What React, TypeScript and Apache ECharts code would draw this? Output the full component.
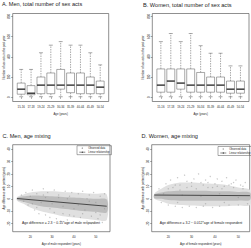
import React, { useEffect, useRef } from "react";
import * as echarts from "echarts";

// ---------- data ----------
const ageGroups = ["15-16", "17-18", "19-24", "25-29", "30-34", "35-39", "40-44", "45-49", "50-54"];
const actTicks = [0, 200, 400, 600, 800];

// Men: whisker low, Q1, median, Q3, whisker high
const menLow = [5, 5, 5, 5, 5, 5, 5, 5, 5];
const menQ1 = [30, 25, 35, 35, 80, 45, 35, 35, 35];
const menMedian = [80, 40, 120, 120, 120, 120, 120, 120, 100];
const menQ3 = [140, 115, 200, 240, 275, 240, 240, 200, 160];
const menHigh = [275, 275, 440, 515, 550, 515, 515, 440, 320];

// Women
const womenLow = [5, 5, 5, 5, 5, 5, 5, 5, 5];
const womenQ1 = [50, 50, 80, 50, 50, 50, 50, 40, 40];
const womenMedian = [120, 160, 140, 120, 120, 120, 120, 80, 80];
const womenQ3 = [280, 280, 280, 280, 245, 200, 200, 160, 160];
const womenHigh = [550, 630, 550, 630, 510, 435, 435, 310, 310];

// Age mixing
const diffTicks = [-20, -10, 0, 10, 20, 30, 40];
const ageTicks = [20, 30, 40, 50];

const menAges = [14, 17, 20, 25, 30, 35, 40, 45, 50, 55];
const menOuterHi = [1.5, 3.5, 5, 6, 6, 5.5, 5, 4.5, 4, 3.5];
const menOuterLo = [-1.5, -4, -7, -10, -12, -14, -15, -16, -17, -17];
const menInnerHi = [0.8, 2, 2.5, 2.5, 2, 1.5, 1, 0.5, 0, -0.5];
const menInnerLo = [-0.8, -2.5, -4, -6, -7, -8, -9, -10, -10.5, -11];
const menPoints = [
  [16, 3], [18, 5], [19, -5], [21, 7], [22, -9], [23, 4], [24, -12], [26, 8], [27, -13], [28, 5],
  [29, -15], [31, 7], [32, -16], [33, 3], [34, -18], [36, 6], [37, -17], [38, -13], [39, 5], [41, -19],
  [42, 4], [43, -15], [44, 6], [46, -18], [47, 3], [48, -20], [49, 5], [51, -16], [52, 2], [53, -19],
  [54, 4], [20, 2], [25, -3], [30, -4], [35, -6], [40, -8], [45, -9], [50, -11], [17, -2], [27, 1],
  [37, 0], [47, -2], [21, -4], [23, -7], [26, 3], [29, -8], [31, -11], [33, 1], [35, -12], [38, 2],
  [40, -14], [42, -5], [44, -12], [46, 0], [48, -14], [50, -3], [52, -13], [54, -8],
];
const menLineAges = [14, 55];
const menLineVals = [0.2, -6.0];

const womenAges = [14, 17, 20, 25, 30, 35, 40, 45, 50, 55];
const womenOuterHi = [4, 8, 11, 13, 13, 12.5, 12, 11, 9, 7];
const womenOuterLo = [0, -2, -4, -5, -5.5, -6, -6, -6, -5.5, -5];
const womenInnerHi = [3.5, 5, 6, 6.5, 6.5, 6.5, 6, 6, 5.5, 5];
const womenInnerLo = [0.5, 0, -1, -1.5, -1.5, -1.5, -1.5, -1.5, -1.5, -1];
const womenPoints = [
  [16, 8], [17, -3], [19, 12], [20, -5], [21, 15], [22, 9], [23, -6], [24, 17], [25, 11], [26, -7],
  [27, 19], [28, 14], [29, -6], [30, 10], [31, 16], [32, -7], [33, 20], [34, 13], [35, -6], [36, 15],
  [37, 9], [38, 18], [39, -7], [40, 12], [41, 16], [42, -6], [43, 14], [44, 10], [45, 17], [46, -5],
  [47, 12], [48, 9], [49, 15], [50, -5], [51, 11], [52, 8], [53, 13], [54, -4], [18, 4], [26, 3],
  [34, 2], [42, 4], [50, 1], [20, 8], [23, 11], [25, 7], [28, 9], [30, 13], [32, 8], [35, 11],
  [37, 13], [39, 9], [41, 10], [43, 8], [46, 11], [48, 13], [52, 10], [24, -3], [36, -4], [44, -3],
];
const womenLineAges = [14, 55];
const womenLineVals = [3.0, 2.5];

// ---------- helpers ----------
const FONT = "Liberation Sans";
const TXT = "#222";

function boxData(lo: number[], q1: number[], md: number[], q3: number[], hi: number[]) {
  return ageGroups.map((_, i) => [i + 1, lo[i], q1[i], md[i], q3[i], hi[i]]);
}

function renderBox(params: any, api: any) {
  const x = api.value(0);
  const pLo = api.coord([x, api.value(1)]);
  const pQ1 = api.coord([x, api.value(2)]);
  const pMd = api.coord([x, api.value(3)]);
  const pQ3 = api.coord([x, api.value(4)]);
  const pHi = api.coord([x, api.value(5)]);
  const hw = api.size([0.8, 0])[0] / 2;
  const cw = api.size([0.4, 0])[0] / 2;
  const cx = pMd[0];
  const thin = { stroke: "#555", lineWidth: 0.5 };
  return {
    type: "group",
    children: [
      { type: "line", shape: { x1: cx, y1: pQ3[1], x2: cx, y2: pHi[1] }, style: { ...thin, lineDash: [1.5, 1] } },
      { type: "line", shape: { x1: cx, y1: pQ1[1], x2: cx, y2: pLo[1] }, style: { ...thin, lineDash: [1.5, 1] } },
      { type: "line", shape: { x1: cx - cw, y1: pHi[1], x2: cx + cw, y2: pHi[1] }, style: thin },
      { type: "line", shape: { x1: cx - cw, y1: pLo[1], x2: cx + cw, y2: pLo[1] }, style: thin },
      {
        type: "rect",
        shape: { x: cx - hw, y: pQ3[1], width: hw * 2, height: pQ1[1] - pQ3[1] },
        style: { fill: "#fff", ...thin },
      },
      { type: "line", shape: { x1: cx - hw, y1: pMd[1], x2: cx + hw, y2: pMd[1] }, style: { stroke: "#222", lineWidth: 1.3 } },
    ],
  };
}

function bandRenderer(ages: number[], lo: number[], hi: number[], color: string) {
  return (params: any, api: any) => {
    if (params.dataIndex !== 0) return null;
    const pts: number[][] = [];
    for (let i = 0; i < ages.length; i++) pts.push(api.coord([ages[i], hi[i]]));
    for (let i = ages.length - 1; i >= 0; i--) pts.push(api.coord([ages[i], lo[i]]));
    return { type: "polygon", shape: { points: pts, smooth: 0.3 }, style: { fill: color } };
  };
}

const tickStyle = { show: true, length: 1.5, lineStyle: { color: "#444", width: 0.5 } };
const labelBase = { fontSize: 2.8, color: TXT, fontFamily: FONT };
const nameStyle = { fontSize: 2.8, color: TXT, fontFamily: FONT };

function actsXAxis(gridIndex: number) {
  return {
    type: "value",
    gridIndex,
    min: 0.14,
    max: 9.86,
    axisLine: { show: false },
    splitLine: { show: false },
    axisTick: { ...tickStyle, customValues: ageGroups.map((_, i) => i + 1) },
    axisLabel: {
      ...labelBase,
      margin: 3.5,
      customValues: ageGroups.map((_, i) => i + 1),
      formatter: (v: number) => ageGroups[Math.round(v) - 1] ?? "",
    },
    name: "Age (years)",
    nameLocation: "middle",
    nameGap: 10.5,
    nameTextStyle: nameStyle,
  };
}

function actsYAxis(gridIndex: number) {
  return {
    type: "value",
    gridIndex,
    min: -42,
    max: 828,
    axisLine: { show: false },
    splitLine: { show: false },
    axisTick: { ...tickStyle, customValues: actTicks },
    axisLabel: { ...labelBase, margin: 2.5, rotate: 90, customValues: actTicks },
    name: "Number of sex acts in the past year",
    nameLocation: "middle",
    nameGap: 8,
    nameTextStyle: nameStyle,
  };
}

function mixXAxis(gridIndex: number, min: number, max: number, name: string) {
  return {
    type: "value",
    gridIndex,
    min,
    max,
    axisLine: { show: false },
    splitLine: { show: false },
    axisTick: { ...tickStyle, customValues: ageTicks },
    axisLabel: { ...labelBase, margin: 3.5, customValues: ageTicks },
    name,
    nameLocation: "middle",
    nameGap: 10,
    nameTextStyle: nameStyle,
  };
}

function mixYAxis(gridIndex: number) {
  return {
    type: "value",
    gridIndex,
    min: -26.5,
    max: 43.5,
    axisLine: { show: false },
    splitLine: { show: false },
    axisTick: { ...tickStyle, customValues: diffTicks },
    axisLabel: { ...labelBase, margin: 2.5, rotate: 90, customValues: diffTicks },
    name: "Age difference with partner (years)",
    nameLocation: "middle",
    nameGap: 8,
    nameTextStyle: nameStyle,
  };
}

const gridBase = { show: true, borderColor: "#444", borderWidth: 0.6, backgroundColor: "transparent", containLabel: false, outerBoundsMode: "none" };

export default function App() {
  const ref = useRef<HTMLDivElement>(null);
  useEffect(() => {
    document.body.style.margin = "0";
    if (!ref.current) return;
    const chart = echarts.init(ref.current, null, { renderer: "svg" });
    const mixSeries = (
      xi: number,
      ages: number[],
      oLo: number[],
      oHi: number[],
      iLo: number[],
      iHi: number[],
      pts: number[][],
      lAges: number[],
      lVals: number[]
    ) => [
      {
        type: "custom",
        xAxisIndex: xi,
        yAxisIndex: xi,
        silent: true,
        renderItem: bandRenderer(ages, oLo, oHi, "#e0e0e0"),
        data: ages.map((a, i) => [a, oLo[i], oHi[i]]),
        encode: { x: 0, y: [1, 2] },
        z: 1,
      },
      {
        type: "custom",
        xAxisIndex: xi,
        yAxisIndex: xi,
        silent: true,
        renderItem: bandRenderer(ages, iLo, iHi, "#bdbdbd"),
        data: ages.map((a, i) => [a, iLo[i], iHi[i]]),
        encode: { x: 0, y: [1, 2] },
        z: 2,
      },
      {
        type: "scatter",
        name: "Observed data",
        xAxisIndex: xi,
        yAxisIndex: xi,
        symbolSize: 1.3,
        itemStyle: { color: "rgba(140,140,140,0.6)" },
        data: pts,
        z: 3,
      },
      {
        type: "line",
        name: "Linear relationship",
        xAxisIndex: xi,
        yAxisIndex: xi,
        symbol: "none",
        lineStyle: { color: "#3a3a3a", width: 0.9 },
        itemStyle: { color: "#3a3a3a" },
        data: lAges.map((a, i) => [a, lVals[i]]),
        z: 4,
      },
    ];

    const legendBase = {
      orient: "vertical",
      borderColor: "#555",
      borderWidth: 0.5,
      padding: [1, 2, 1, 2],
      itemGap: 1,
      itemWidth: 6,
      itemHeight: 1.5,
      textStyle: { fontSize: 2.6, color: TXT, fontFamily: FONT, padding: [0, 0, 0, -2] },
      selectedMode: false,
      data: [
        { name: "Observed data", icon: "circle", itemStyle: { color: "#999" } },
        { name: "Linear relationship", lineStyle: { width: 0.6 } },
      ],
    };

    chart.setOption({
      animation: false,
      backgroundColor: "#fff",
      textStyle: { fontFamily: FONT },
      grid: [
        { ...gridBase, left: 12.7, top: 13.5, width: 96, height: 88 },
        { ...gridBase, left: 152.3, top: 13.5, width: 96.7, height: 88 },
        { ...gridBase, left: 12.7, top: 144.7, width: 97.3, height: 87 },
        { ...gridBase, left: 151.7, top: 144.7, width: 98, height: 87 },
      ],
      xAxis: [
        actsXAxis(0),
        actsXAxis(1),
        mixXAxis(2, 12, 56.5, "Age of male respondent (years)"),
        mixXAxis(3, 12.9, 54.9, "Age of female respondent (years)"),
      ],
      yAxis: [actsYAxis(0), actsYAxis(1), mixYAxis(2), mixYAxis(3)],
      legend: [
        { ...legendBase, left: 77, top: 145.7 },
        { ...legendBase, left: 218, top: 146.5 },
      ],
      series: [
        {
          type: "custom",
          name: "Men",
          xAxisIndex: 0,
          yAxisIndex: 0,
          renderItem: renderBox,
          data: boxData(menLow, menQ1, menMedian, menQ3, menHigh),
          encode: { x: 0, y: [1, 2, 3, 4, 5] },
        },
        {
          type: "custom",
          name: "Women",
          xAxisIndex: 1,
          yAxisIndex: 1,
          renderItem: renderBox,
          data: boxData(womenLow, womenQ1, womenMedian, womenQ3, womenHigh),
          encode: { x: 0, y: [1, 2, 3, 4, 5] },
        },
        ...mixSeries(2, menAges, menOuterLo, menOuterHi, menInnerLo, menInnerHi, menPoints, menLineAges, menLineVals),
        ...mixSeries(3, womenAges, womenOuterLo, womenOuterHi, womenInnerLo, womenInnerHi, womenPoints, womenLineAges, womenLineVals),
      ],
      graphic: [
        { type: "text", left: 2, top: 1, style: { text: "A. Men, total number of sex acts", fontSize: 5.6, fill: TXT, fontFamily: FONT } },
        { type: "text", left: 143, top: 2, style: { text: "B. Women, total number of sex acts", fontSize: 5.6, fill: TXT, fontFamily: FONT } },
        { type: "text", left: 2.5, top: 133, style: { text: "C. Men, age mixing", fontSize: 5.6, fill: TXT, fontFamily: FONT } },
        { type: "text", left: 141.5, top: 133, style: { text: "D. Women, age mixing", fontSize: 5.6, fill: TXT, fontFamily: FONT } },
        {
          type: "text",
          x: 61,
          y: 223.3,
          z: 10,
          style: { text: "Age difference = 2.3 \u2212 0.15*age of male respondent", fontSize: 3.4, fill: TXT, fontFamily: FONT, align: "center", verticalAlign: "middle" },
        },
        {
          type: "text",
          x: 201,
          y: 223,
          z: 10,
          style: { text: "Age difference = 3.2 \u2212 0.012*age of female respondent", fontSize: 3.4, fill: TXT, fontFamily: FONT, align: "center", verticalAlign: "middle" },
        },
      ],
    });
    return () => chart.dispose();
  }, []);
  return <div ref={ref} style={{ width: 251, height: 248 }} />;
}
